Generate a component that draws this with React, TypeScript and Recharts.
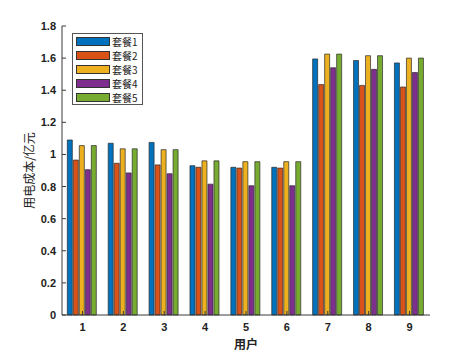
import React from "react";
import { Bar, BarChart, XAxis, YAxis } from "recharts";

const users = ["1", "2", "3", "4", "5", "6", "7", "8", "9"];
const plan1 = [1.09, 1.07, 1.075, 0.93, 0.92, 0.92, 1.595, 1.585, 1.57];
const plan2 = [0.965, 0.945, 0.935, 0.92, 0.915, 0.915, 1.435, 1.43, 1.42];
const plan3 = [1.055, 1.035, 1.03, 0.96, 0.955, 0.955, 1.625, 1.615, 1.6];
const plan4 = [0.905, 0.885, 0.88, 0.815, 0.805, 0.805, 1.54, 1.53, 1.51];
const plan5 = [1.055, 1.035, 1.03, 0.96, 0.955, 0.955, 1.625, 1.615, 1.6];
const yTicks = [0, 0.2, 0.4, 0.6, 0.8, 1, 1.2, 1.4, 1.6, 1.8];

const seriesNames = ["套餐1", "套餐2", "套餐3", "套餐4", "套餐5"];
const colors = ["#0072BD", "#D95319", "#EDB120", "#7E2F8E", "#77AC30"];
const seriesValues = [plan1, plan2, plan3, plan4, plan5];

const data = users.map((u, i) => {
  const row: Record<string, string | number> = { user: u };
  seriesNames.forEach((n, k) => {
    row[n] = seriesValues[k][i];
  });
  return row;
});

const LEFT = 62;
const RIGHT = 430;
const TOP = 26;
const BOTTOM = 315;
const AXIS = "#3a3a3a";
const FONT = "'Liberation Sans', Arial, sans-serif";
const CJK = "'Noto Sans CJK SC', sans-serif";

const LeftTick = (props: any) => {
  const { y, payload } = props;
  return (
    <g>
      <line x1={LEFT} x2={LEFT + 4} y1={y} y2={y} stroke={AXIS} strokeWidth={1} />
      <text x={LEFT - 6} y={y} dy={4} textAnchor="end" fontSize={11} fontWeight="bold" fill="#222" fontFamily={FONT}>
        {String(Math.round(payload.value * 10) / 10)}
      </text>
    </g>
  );
};

const RightTick = (props: any) => {
  const { y } = props;
  return <line x1={RIGHT - 4} x2={RIGHT} y1={y} y2={y} stroke={AXIS} strokeWidth={1} />;
};

const BottomTick = (props: any) => {
  const { x, payload } = props;
  return (
    <g>
      <line x1={x} x2={x} y1={BOTTOM} y2={BOTTOM - 4} stroke={AXIS} strokeWidth={1} />
      <text x={x} y={BOTTOM + 16} textAnchor="middle" fontSize={11} fontWeight="bold" fill="#222" fontFamily={FONT}>
        {payload.value}
      </text>
    </g>
  );
};

const TopTick = (props: any) => {
  const { x } = props;
  return <line x1={x} x2={x} y1={TOP} y2={TOP + 4} stroke={AXIS} strokeWidth={1} />;
};

// legend drawn as an overlay so it doesn't shrink the plot area
const LegendBox = () => (
  <div
    style={{
      position: "absolute",
      left: 72,
      top: 33,
      border: "1px solid #555",
      background: "white",
      padding: "0 4px 0 3px",
      fontFamily: CJK,
      fontSize: 10,
      color: "#222",
      whiteSpace: "nowrap",
    }}
  >
    {seriesNames.map((n, i) => (
      <div key={n} style={{ display: "flex", alignItems: "center", height: 14 }}>
        <div
          style={{
            width: 34,
            height: 9,
            background: colors[i],
            border: "1px solid #333",
            marginRight: 2,
            boxSizing: "border-box",
          }}
        />
        <span style={{ lineHeight: "11px" }}>{n}</span>
      </div>
    ))}
  </div>
);

export default function App() {
  return (
    <div style={{ position: "absolute", left: 0, top: 0, width: 474, height: 355, background: "white" }}>
      <BarChart
        width={474}
        height={355}
        data={data}
        margin={{ top: TOP, right: 474 - RIGHT, left: 22, bottom: 0 }}
        barCategoryGap="13%"
        barGap={1}
      >
        <XAxis
          dataKey="user"
          xAxisId="bottom"
          height={355 - BOTTOM}
          tickLine={false}
          tick={<BottomTick />}
          axisLine={{ stroke: AXIS }}
          interval={0}
          label={{
            value: "用户",
            position: "insideBottom",
            offset: 6,
            fontSize: 12,
            fontWeight: "bold",
            fill: "#222",
            fontFamily: CJK,
          }}
        />
        <XAxis
          dataKey="user"
          xAxisId="top"
          orientation="top"
          height={0}
          tickLine={false}
          tick={<TopTick />}
          axisLine={{ stroke: AXIS }}
          interval={0}
        />
        <YAxis
          yAxisId="left"
          width={LEFT - 22}
          domain={[0, 1.8]}
          ticks={yTicks}
          tickLine={false}
          tick={<LeftTick />}
          axisLine={{ stroke: AXIS }}
          interval={0}
          label={{
            value: "用电成本/亿元",
            angle: -90,
            position: "insideLeft",
            offset: 8,
            fontSize: 12,
            fill: "#222",
            fontFamily: CJK,
            style: { textAnchor: "middle" },
          }}
        />
        <YAxis
          yAxisId="right"
          orientation="right"
          width={0}
          domain={[0, 1.8]}
          ticks={yTicks}
          tickLine={false}
          tick={<RightTick />}
          axisLine={{ stroke: AXIS }}
          interval={0}
        />
        {seriesNames.map((n, i) => (
          <Bar
            key={n}
            dataKey={n}
            xAxisId="bottom"
            yAxisId="left"
            fill={colors[i]}
            stroke="#2a2a2a"
            strokeWidth={0.7}
            isAnimationActive={false}
          />
        ))}
      </BarChart>
      <LegendBox />
    </div>
  );
}
